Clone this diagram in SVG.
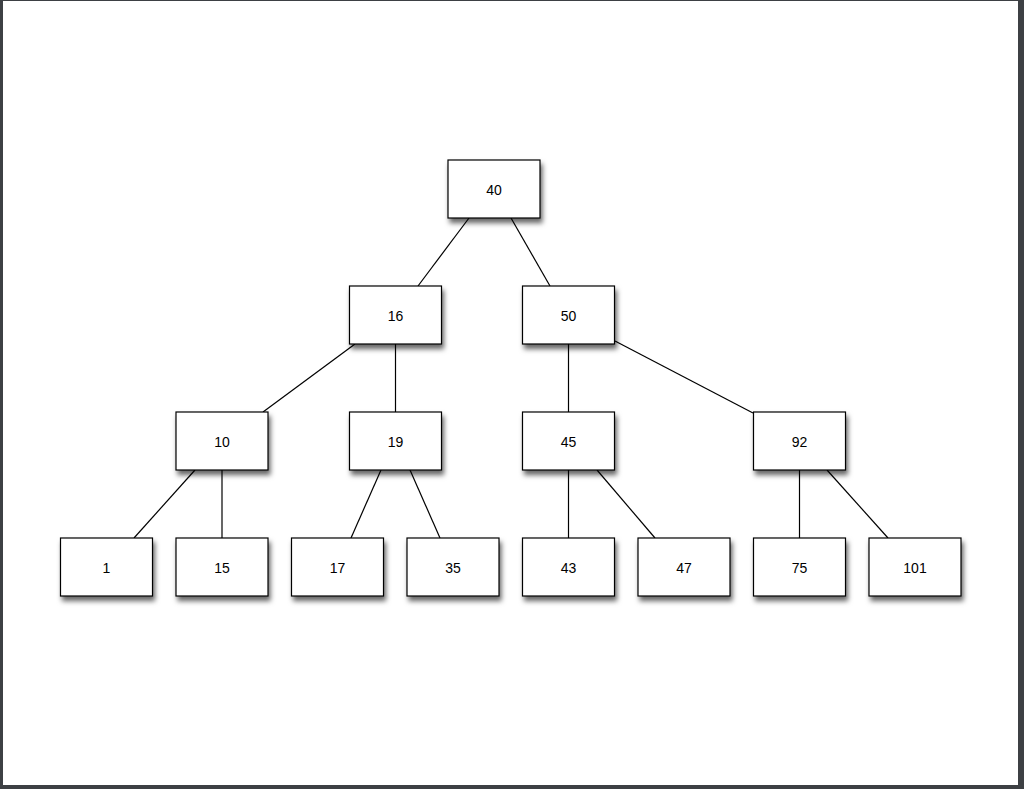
<svg xmlns="http://www.w3.org/2000/svg" width="1024" height="789" viewBox="0 0 1024 789">
<defs>
<filter id="sh" x="-20%" y="-20%" width="150%" height="170%">
<feDropShadow dx="2" dy="4.5" stdDeviation="2.8" flood-color="#000" flood-opacity="0.6"/>
</filter>
<style>
.n rect{fill:#fff;stroke:#000;stroke-width:1.2;filter:url(#sh)}
.n text{font-family:"Liberation Sans",Arial,sans-serif;font-size:14px;fill:#000;text-anchor:middle}
#edges line{stroke:#000;stroke-width:1.2}
</style>
</defs>
<rect x="0" y="0" width="1024" height="789" fill="#3d4044"/>
<rect x="3" y="1" width="1015" height="784" fill="#fff"/>
<g id="edges">
<line x1="469" y1="218" x2="418" y2="286"/>
<line x1="511" y1="218" x2="550" y2="286"/>
<line x1="355" y1="344" x2="263" y2="412"/>
<line x1="395.5" y1="344" x2="395.5" y2="412"/>
<line x1="568.5" y1="344" x2="568.5" y2="412"/>
<line x1="615" y1="341" x2="753" y2="413"/>
<line x1="195" y1="470" x2="134" y2="538"/>
<line x1="222" y1="470" x2="222" y2="538"/>
<line x1="381" y1="470" x2="351" y2="538"/>
<line x1="410" y1="470" x2="440" y2="538"/>
<line x1="568.5" y1="470" x2="568.5" y2="538"/>
<line x1="597" y1="470" x2="655" y2="538"/>
<line x1="799.5" y1="470" x2="799.5" y2="538"/>
<line x1="827" y1="470" x2="888" y2="538"/>
</g>
<g id="n40" class="n"><rect x="448" y="160" width="92" height="58"/><text x="494" y="195">40</text></g>
<g id="n16" class="n"><rect x="349.5" y="286" width="92" height="58"/><text x="395.5" y="321">16</text></g>
<g id="n50" class="n"><rect x="522.5" y="286" width="92" height="58"/><text x="568.5" y="321">50</text></g>
<g id="n10" class="n"><rect x="176" y="412" width="92" height="58"/><text x="222" y="447">10</text></g>
<g id="n19" class="n"><rect x="349.5" y="412" width="92" height="58"/><text x="395.5" y="447">19</text></g>
<g id="n45" class="n"><rect x="522.5" y="412" width="92" height="58"/><text x="568.5" y="447">45</text></g>
<g id="n92" class="n"><rect x="753.5" y="412" width="92" height="58"/><text x="799.5" y="447">92</text></g>
<g id="n1" class="n"><rect x="60.5" y="538" width="92" height="58"/><text x="106.5" y="573">1</text></g>
<g id="n15" class="n"><rect x="176" y="538" width="92" height="58"/><text x="222" y="573">15</text></g>
<g id="n17" class="n"><rect x="291.5" y="538" width="92" height="58"/><text x="337.5" y="573">17</text></g>
<g id="n35" class="n"><rect x="407" y="538" width="92" height="58"/><text x="453" y="573">35</text></g>
<g id="n43" class="n"><rect x="522.5" y="538" width="92" height="58"/><text x="568.5" y="573">43</text></g>
<g id="n47" class="n"><rect x="638" y="538" width="92" height="58"/><text x="684" y="573">47</text></g>
<g id="n75" class="n"><rect x="753.5" y="538" width="92" height="58"/><text x="799.5" y="573">75</text></g>
<g id="n101" class="n"><rect x="869" y="538" width="92" height="58"/><text x="915" y="573">101</text></g>
</svg>
